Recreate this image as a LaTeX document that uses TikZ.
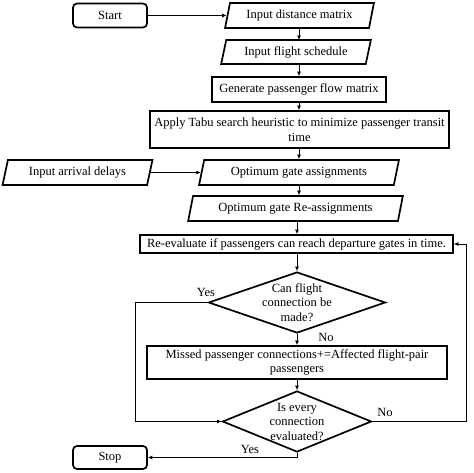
\documentclass[tikz,border=0pt]{standalone}
\usepackage{fontspec}
\setmainfont{Liberation Serif}
\usetikzlibrary{arrows.meta,positioning,shapes.geometric}

\tikzset{
  every node/.style={font=\fontsize{12.5}{14.5}\selectfont},
  term/.style={draw, line width=1.7pt, rounded corners=4pt, minimum width=74pt, minimum height=24pt},
  iobox/.style={draw, line width=1.7pt, trapezium, trapezium left angle=74, trapezium right angle=106,
    trapezium stretches=true, minimum height=25pt, inner sep=1pt},
  procbox/.style={draw, line width=1.7pt, rectangle, inner sep=1pt, align=center},
  decide/.style={draw, line width=1.7pt, diamond, inner sep=-4pt, align=center},
  flow/.style={line width=0.8pt, -{Latex[length=4.5pt,width=4pt]}},
  branch/.style={font=\fontsize{12.5}{13}\selectfont}
}

\begin{document}
\begin{tikzpicture}[x=1pt, y=-1pt]
  \useasboundingbox (0,0) rectangle (474,472);

  % ---- Top input chain ----
  \node[term] (start) at (110,15.5) {Start};
  \node[iobox, minimum width=149pt] (indist) at (299.5,15.5) {Input distance matrix};
  \node[iobox, minimum width=150pt, minimum height=24pt] (inflight) at (296,52) {Input flight schedule};
  \node[procbox, minimum width=174pt, minimum height=25pt] (gen) at (299,89.5) {Generate passenger flow matrix};
  \node[procbox, minimum width=299pt, minimum height=37pt] (tabu) at (299.5,129.5)
    {Apply Tabu search heuristic to minimize passenger transit\\time};

  % ---- Gate assignment ----
  \node[iobox, minimum width=150pt] (arrival) at (77.5,172.5) {Input arrival delays};
  \node[iobox, minimum width=200pt] (optassign) at (299,172.5) {Optimum gate assignments};
  \node[iobox, minimum width=215pt] (reassign) at (295.5,208.5) {Optimum gate Re-assignments};

  % ---- Evaluation loop ----
  \node[procbox, minimum width=313pt, minimum height=18pt] (reeval) at (296.5,244)
    {Re-evaluate if passengers can reach departure gates in time.};
  \node[decide, minimum width=177pt, minimum height=61pt, aspect=2.9] (canmake) at (297,302.5)
    {Can flight\\connection be\\made?};
  \node[procbox, minimum width=300pt, minimum height=33pt] (missed) at (297,362.5)
    {Missed passenger connections+=Affected flight-pair\\passengers};
  \node[decide, minimum width=149pt, minimum height=61pt, aspect=2.44] (alldone) at (297,421.5)
    {Is every\\connection\\evaluated?};
  \node[term, minimum height=23pt] (stop) at (110,457.5) {Stop};

  % ---- Branch labels ----
  \node[branch] (yesA) at (206,292) {Yes};
  \node[branch] (noA) at (326,337) {No};
  \node[branch] (noB) at (385,412) {No};
  \node[branch] (yesB) at (250,449) {Yes};

  % ---- Connectors ----
  \draw[flow] (start.east) -- (indist.west);
  \draw[flow] (299,28) -- (299,40);
  \draw[flow] (299,64) -- (gen.north -| 299,0);
  \draw[flow] (gen.south -| 299,0) -- (tabu.north -| 299,0);
  \draw[flow] (tabu.south -| 299,0) -- (optassign.north -| 299,0);
  \draw[flow] (arrival.east) -- (optassign.west);
  \draw[flow] (optassign.south -| 299,0) -- (reassign.north -| 299,0);
  \draw[flow] (reassign.south -| 297,0) -- (reeval.north -| 297,0);
  \draw[flow] (reeval.south -| 297,0) -- (canmake.north);
  \draw[flow] (canmake.south) -- (missed.north -| 297,0);
  \draw[flow] (missed.south -| 297,0) -- (alldone.north);
  \draw[flow] (canmake.west) -- ++(-72,0) |- (alldone.west);
  \draw[flow] (alldone.east) -- ++(94,0) |- (reeval.east);
  \draw[flow] (alldone.south) |- (stop.east);

\end{tikzpicture}
\end{document}
